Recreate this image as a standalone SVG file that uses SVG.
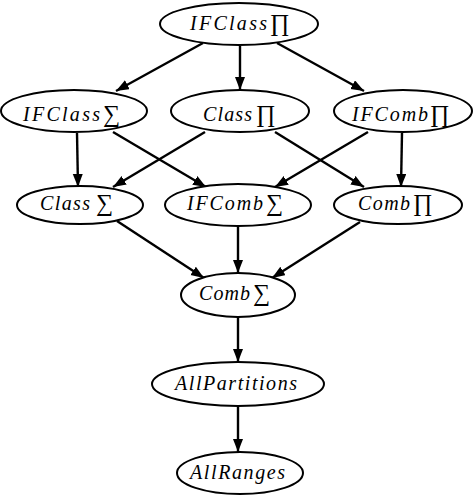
<svg xmlns="http://www.w3.org/2000/svg" width="474" height="500" viewBox="0 0 474 500">
<style>
.n ellipse{fill:#fff;stroke:#000;stroke-width:2}
.t{font-family:"Liberation Serif",serif;font-style:italic;font-size:20px;fill:#000}
.s{font-family:"Liberation Serif",serif;font-size:24px;fill:#000}
#edges line{stroke:#000;stroke-width:2.4;marker-end:url(#ah)}
</style>
<defs>
<marker id="ah" markerUnits="userSpaceOnUse" markerWidth="14" markerHeight="11" refX="13" refY="5" orient="auto">
<path d="M0,0 L13,5 L0,10 Z" fill="#000"/>
</marker>
</defs>
<rect width="474" height="500" fill="#fff"/>
<g id="edges">
<line x1="203" y1="43" x2="116" y2="91"/>
<line x1="240" y1="46" x2="240" y2="90"/>
<line x1="277" y1="43" x2="364" y2="91"/>
<line x1="77" y1="133" x2="78" y2="187"/>
<line x1="113" y1="132" x2="206" y2="187"/>
<line x1="205" y1="132" x2="113" y2="187"/>
<line x1="275" y1="132" x2="364" y2="187"/>
<line x1="368" y1="132" x2="275" y2="187"/>
<line x1="402" y1="133" x2="401" y2="187"/>
<line x1="117" y1="221" x2="204" y2="278"/>
<line x1="238" y1="227" x2="238" y2="273"/>
<line x1="360" y1="222" x2="272" y2="278"/>
<line x1="238" y1="317" x2="238" y2="362"/>
<line x1="238" y1="407" x2="238" y2="452"/>
</g>
<g id="IFClassProd" class="n"><ellipse cx="239" cy="24" rx="79" ry="21"/><text class="t" x="190" y="30" textLength="77" lengthAdjust="spacing">IFClass</text><text class="s" x="270" y="31">∏</text></g>
<g id="IFClassSum" class="n"><ellipse cx="74" cy="111" rx="73" ry="21"/><text class="t" x="23" y="121" textLength="77" lengthAdjust="spacing">IFClass</text><text class="s" x="103" y="122">∑</text></g>
<g id="ClassProd" class="n"><ellipse cx="240" cy="111" rx="69" ry="21"/><text class="t" x="203" y="121" textLength="49" lengthAdjust="spacing">Class</text><text class="s" x="256" y="122">∏</text></g>
<g id="IFCombProd" class="n"><ellipse cx="403" cy="111" rx="69" ry="21"/><text class="t" x="352" y="121" textLength="76" lengthAdjust="spacing">IFComb</text><text class="s" x="430" y="122">∏</text></g>
<g id="ClassSum" class="n"><ellipse cx="80" cy="205" rx="63" ry="19"/><text class="t" x="40" y="210" textLength="50" lengthAdjust="spacing">Class</text><text class="s" x="96" y="211">∑</text></g>
<g id="IFCombSum" class="n"><ellipse cx="238" cy="205" rx="73" ry="21"/><text class="t" x="187" y="210" textLength="76" lengthAdjust="spacing">IFComb</text><text class="s" x="266" y="211">∑</text></g>
<g id="CombProd" class="n"><ellipse cx="398" cy="205" rx="64" ry="19"/><text class="t" x="358" y="210" textLength="52" lengthAdjust="spacing">Comb</text><text class="s" x="413" y="211">∏</text></g>
<g id="CombSum" class="n"><ellipse cx="238" cy="295" rx="57" ry="22"/><text class="t" x="199" y="300" textLength="51" lengthAdjust="spacing">Comb</text><text class="s" x="253" y="301">∑</text></g>
<g id="AllPartitions" class="n"><ellipse cx="238" cy="384" rx="86" ry="22"/><text class="t" x="175" y="390" textLength="122" lengthAdjust="spacing">AllPartitions</text></g>
<g id="AllRanges" class="n"><ellipse cx="240" cy="473" rx="63" ry="21"/><text class="t" x="190" y="479" textLength="95" lengthAdjust="spacing">AllRanges</text></g>
</svg>
